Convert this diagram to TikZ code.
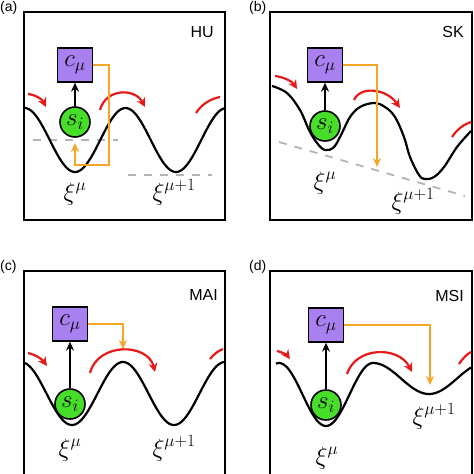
\documentclass[tikz,border=0pt]{standalone}
\usepackage{fontspec}
\newfontfamily\labfont{Liberation Sans}
\usetikzlibrary{arrows.meta}
\definecolor{cpurple}{RGB}{168,128,240}
\definecolor{cgreen}{RGB}{70,222,40}
\definecolor{corange}{RGB}{245,165,40}
\definecolor{cred}{RGB}{232,25,25}
\definecolor{cgray}{RGB}{180,180,180}
\tikzset{
  frame/.style={line width=2.6pt},
  land/.style={line width=2.2pt, line join=round},
  cbox/.style={draw, line width=1.3pt, fill=cpurple, minimum width=35pt, minimum height=34pt, inner sep=0pt, font=\fontsize{23}{26}\selectfont},
  spin/.style={circle, draw, line width=1.6pt, fill=cgreen, minimum size=30pt, inner sep=0pt, font=\fontsize{23}{26}\selectfont},
  blk/.style={-{Stealth[length=9pt,width=8pt]}, line width=1.8pt},
  org/.style={corange, line width=1.8pt, -{Stealth[length=9pt,width=8pt]}},
  redarr/.style={cred, line width=2.2pt, -{Stealth[length=9pt,width=9pt]}},
  redarc/.style={cred, line width=2.2pt},
  gdash/.style={cgray, line width=1.8pt, dash pattern=on 8pt off 8pt},
  plab/.style={font=\labfont\fontsize{14}{16}\selectfont, inner sep=0pt, anchor=base west},
  mlab/.style={font=\labfont\fontsize{16}{18}\selectfont, inner sep=0pt, anchor=base east},
  xil/.style={font=\fontsize{26}{30}\selectfont, inner sep=0pt, anchor=base}
}
\begin{document}
\begin{tikzpicture}[x=1pt,y=-1pt]
\useasboundingbox (0,0) rectangle (474,474);
% frames
\draw[frame] (24,12) rectangle (225,220);
\draw[frame] (270,12) rectangle (472,220);
\draw[frame] (24,271) rectangle (225,480);
\draw[frame] (270,271) rectangle (472,480);
% panel labels
\node[plab] (la) at (0,11.5) {(a)};
\node[plab] (lb) at (249,11.5) {(b)};
\node[plab] (lc) at (0,270) {(c)};
\node[plab] (ld) at (249,270) {(d)};
\node[mlab] (hu) at (214,37) {HU};
\node[mlab] (sk) at (464,37) {SK};
\node[mlab] (mai) at (218,300) {MAI};
\node[mlab] (msi) at (464,301) {MSI};
% dashed reference lines
\draw[gdash] (33,140) -- (118,140);
\draw[gdash] (128,175) -- (212,175);
\draw[gdash] (279,142) -- (465,196);
% landscapes
\draw[land] plot[domain=24:225, samples=120] (\x, {140+32*cos((\x-75)/101*360)});
\draw[land] plot[smooth, tension=0.6] coordinates {(272,86) (287,93) (300,110) (309,130) (317,143) (325,150) (334,147) (342,133) (350,117) (360,107) (374,103) (385,107) (395,117) (404,137) (410,157) (419,175) (425,179) (434,177) (444,167) (457,147) (471,131)};
\draw[land] plot[domain=25:225, samples=120] (\x, {393.5+31.5*cos((\x-72)/102*360)});
\draw[land] plot[domain=276:373, samples=60] (\x, {363+31.5*(1-cos((\x-279)/94*360))}) -- plot[domain=373:471, samples=60] (\x, {363+15.5*(1-cos((\x-373)/112*360))});
% red hopping arrows
\draw[redarr] (28,94) .. controls (36,95) and (42,99) .. (46,107);
\draw[redarr] (100,110) .. controls (106,88) and (135,88) .. (145,107);
\draw[redarc] (196,113) .. controls (202,104) and (210,99) .. (220,97);
\draw[redarr] (275,76) .. controls (283,77) and (292,81) .. (297,89);
\draw[redarr] (354,100) .. controls (360,86) and (386,88) .. (400,108);
\draw[redarc] (452,137) .. controls (458,128) and (465,124) .. (471,122);
\draw[redarr] (28,353) .. controls (36,355) and (42,359) .. (47,366);
\draw[redarr] (90,373) .. controls (98,342) and (148,343) .. (155,372);
\draw[redarc] (210,359) .. controls (214,354) and (218,351) .. (223,349);
\draw[redarr] (277,351) .. controls (282,352) and (287,355) .. (290,359);
\draw[redarr] (347,374) .. controls (356,346) and (399,346) .. (412,372);
\draw[redarc] (459,364) .. controls (463,358) and (467,354) .. (471,352);
% nodes
\node[cbox] (ca) at (75,65) {$c_\mu$};
\node[spin] (sa) at (75,122) {$s_i$};
\node[cbox] (cb) at (325,65) {$c_\mu$};
\node[spin] (sb) at (325,126) {$s_i$};
\node[cbox] (cc) at (70,324) {$c_\mu$};
\node[spin] (sc) at (70,404) {$s_i$};
\node[cbox] (cd) at (326,325) {$c_\mu$};
\node[spin] (sd) at (326,405) {$s_i$};
% xi labels
\node[xil] (xa1) at (75,200) {$\xi^\mu$};
\node[xil] (xa2) at (174,200) {$\xi^{\mu+1}$};
\node[xil] (xb1) at (325,189) {$\xi^\mu$};
\node[xil] (xb2) at (413,209) {$\xi^{\mu+1}$};
\node[xil] (xc1) at (70,456) {$\xi^\mu$};
\node[xil] (xc2) at (174,456) {$\xi^{\mu+1}$};
\node[xil] (xd1) at (327,464) {$\xi^\mu$};
\node[xil] (xd2) at (434,424) {$\xi^{\mu+1}$};
% connectors
\draw[blk] (sa) -- (ca);
\draw[blk] (sb) -- (cb);
\draw[blk] (sc) -- (cc);
\draw[blk] (sd) -- (cd);
\coordinate (ta) at (75,143);
\coordinate (tb) at (377,167);
\coordinate (tc) at (123,349);
\coordinate (td) at (430,385);
\draw[org] (ca.east) -| (109,165) -| (ta);
\draw[org] (cb.east) -| (tb);
\draw[org] (cc.east) -| (tc);
\draw[org] (cd.east) -| (td);
\end{tikzpicture}
\end{document}
